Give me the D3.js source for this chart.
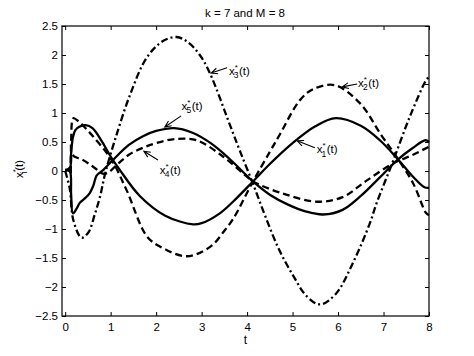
<!DOCTYPE html>
<html>
<head>
<meta charset="utf-8">
<script src="https://cdn.jsdelivr.net/npm/d3@7"></script>
<style>
  html, body { margin: 0; padding: 0; background: #fff; }
  svg { display: block; }
  text { font-family: "Liberation Sans", Arial, Helvetica, sans-serif; fill: #000; }
</style>
</head>
<body>
<svg id="chart" width="474" height="356"></svg>
<script>
// ---- data ----
const title = "k = 7 and M = 8";
const xTicks = [0, 1, 2, 3, 4, 5, 6, 7, 8];
const yTicks = [-2.5, -2, -1.5, -1, -0.5, 0, 0.5, 1, 1.5, 2, 2.5];

const t1 = [0, 0.1, 0.13, 0.17, 0.22, 0.3, 0.45, 0.6, 0.8, 1.0, 1.2, 1.64, 2.2, 2.81, 3.0, 3.4, 3.69, 4.13, 4.5, 5.0, 5.5, 5.95, 6.5, 6.92, 7.32, 7.65, 7.9, 8.0];
const x1 = [0.02, 0.04, 0.3, 0.58, 0.7, 0.76, 0.79, 0.74, 0.52, 0.25, 0.02, -0.43, -0.77, -0.92, -0.9, -0.73, -0.53, -0.18, 0.12, 0.48, 0.77, 0.91, 0.78, 0.53, 0.2, -0.1, -0.28, -0.29];

const t2 = [0, 0.1, 0.13, 0.18, 0.3, 0.62, 1.02, 1.35, 1.79, 2.08, 2.67, 3.2, 3.51, 3.69, 4.13, 4.5, 4.72, 5.16, 5.45, 5.93, 6.48, 6.95, 7.28, 7.65, 7.94, 8.0];
const x2 = [0.0, 0.05, 0.5, 0.91, 0.85, 0.59, 0.19, -0.33, -1.12, -1.3, -1.47, -1.3, -1.02, -0.83, -0.18, 0.33, 0.63, 1.22, 1.41, 1.48, 1.17, 0.62, 0.25, -0.21, -0.73, -0.76];

const t3 = [0, 0.1, 0.18, 0.36, 0.51, 0.65, 0.77, 0.88, 1.1, 1.42, 1.79, 2.15, 2.45, 2.7, 2.96, 3.18, 3.62, 3.84, 4.13, 4.4, 4.7, 5.01, 5.3, 5.6, 5.95, 6.33, 6.7, 6.85, 7.2, 7.58, 7.94, 8.0];
const x3 = [0.0, -0.3, -0.85, -1.15, -1.06, -0.75, -0.43, -0.04, 0.55, 1.3, 1.95, 2.24, 2.31, 2.22, 2.0, 1.69, 0.8, 0.35, -0.22, -0.78, -1.35, -1.8, -2.15, -2.3, -2.12, -1.58, -0.9, -0.55, 0.15, 0.94, 1.57, 1.62];

const t4 = [0, 0.1, 0.14, 0.2, 0.39, 0.62, 0.87, 1.17, 1.4, 1.71, 2.0, 2.4, 2.89, 3.47, 3.91, 4.13, 4.79, 5.55, 6.1, 6.62, 7.21, 7.65, 8.0];
const x4 = [0.0, 0.05, 0.3, 0.25, 0.19, 0.07, -0.05, 0.13, 0.28, 0.4, 0.48, 0.55, 0.53, 0.25, -0.04, -0.18, -0.39, -0.53, -0.45, -0.17, 0.13, 0.28, 0.42];

const t5 = [0, 0.1, 0.13, 0.17, 0.25, 0.32, 0.45, 0.54, 0.62, 0.69, 0.84, 1.05, 1.4, 1.71, 2.0, 2.4, 2.8, 3.2, 3.6, 4.13, 4.5, 4.9, 5.3, 5.67, 6.1, 6.5, 6.92, 7.32, 7.65, 7.92, 8.0];
const x5 = [0.02, 0.0, -0.4, -0.73, -0.65, -0.55, -0.46, -0.38, -0.25, -0.08, 0.02, 0.19, 0.45, 0.6, 0.69, 0.74, 0.66, 0.48, 0.22, -0.18, -0.41, -0.58, -0.7, -0.75, -0.67, -0.43, -0.11, 0.2, 0.4, 0.53, 0.5];

const seriesNames = ["1", "2", "3", "4", "5"];
const seriesStyle = ["solid", "dashed", "dashdot", "dashed", "solid"];

// annotation: subscript, arrow tip (t,v), arrow tail (t,v), text anchor (t,v)
const annSub = ["3", "5", "4", "2", "1"];
const annTip = [[3.21, 1.69], [2.19, 0.76], [1.73, 0.34], [6.09, 1.45], [5.10, 0.52]];
const annTail = [[3.56, 1.78], [2.55, 0.95], [2.04, 0.19], [6.42, 1.50], [5.49, 0.40]];
const annText = [[3.60, 1.66], [2.56, 1.06], [2.08, -0.05], [6.44, 1.45], [5.53, 0.31]];
const startMarker = [0.04, 0.02];

// ---- drawing ----
const svg = d3.select("#chart");
const mLeft = 62, mRight = 429, mTop = 26, mBottom = 316;
const x = d3.scaleLinear().domain([-0.07, 8]).range([mLeft, mRight]);
const y = d3.scaleLinear().domain([-2.5, 2.5]).range([mBottom, mTop]);

const fmt = d => (d < 0 ? "\u2212" : "") + String(Math.abs(d));

// axes
const ax = svg.append("g").attr("class", "axes");
ax.append("g").attr("transform", `translate(0,${mBottom})`)
  .call(d3.axisBottom(x).tickValues(xTicks).tickFormat(fmt).tickSizeInner(-4).tickSizeOuter(0).tickPadding(7));
ax.append("g").attr("transform", `translate(0,${mTop})`)
  .call(d3.axisTop(x).tickValues(xTicks).tickFormat("").tickSizeInner(-4).tickSizeOuter(0));
ax.append("g").attr("transform", `translate(${mLeft},0)`)
  .call(d3.axisLeft(y).tickValues(yTicks).tickFormat(fmt).tickSizeInner(-4).tickSizeOuter(0).tickPadding(4));
ax.append("g").attr("transform", `translate(${mRight},0)`)
  .call(d3.axisRight(y).tickValues(yTicks).tickFormat("").tickSizeInner(-4).tickSizeOuter(0));
ax.selectAll(".domain").remove();
ax.selectAll(".tick line").attr("stroke", "#000").attr("stroke-width", 1);
ax.selectAll(".tick text").attr("font-size", 11.5).attr("font-family", "Liberation Sans, Arial, sans-serif");
ax.append("rect").attr("x", mLeft).attr("y", mTop).attr("width", mRight - mLeft).attr("height", mBottom - mTop)
  .attr("fill", "none").attr("stroke", "#000").attr("stroke-width", 1.2);

// lines
const allT = [t1, t2, t3, t4, t5];
const allX = [x1, x2, x3, x4, x5];
const dashes = { solid: null, dashed: "7,4", dashdot: "7,3,2,3" };
const line = d3.line().x(d => x(d[0])).y(d => y(d[1])).curve(d3.curveCatmullRom.alpha(0.5));
const plot = svg.append("g");
seriesNames.forEach((n, i) => {
  const pts = allT[i].map((t, j) => [t, allX[i][j]]);
  plot.append("path").datum(pts)
    .attr("d", line)
    .attr("fill", "none")
    .attr("stroke", "#000")
    .attr("stroke-width", 2.3)
    .attr("stroke-linejoin", "round")
    .attr("stroke-dasharray", dashes[seriesStyle[i]]);
});

// start marker (filled triangle pointing left)
const sx = x(startMarker[0]), sy = y(startMarker[1]);
plot.append("path")
  .attr("d", `M${sx - 2},${sy} L${sx + 5},${sy - 4} L${sx + 5},${sy + 4} Z`)
  .attr("fill", "#000");

// annotations
const ann = svg.append("g");
annSub.forEach((s, i) => {
  const [tx, ty] = [x(annTip[i][0]), y(annTip[i][1])];
  const [lx, ly] = [x(annTail[i][0]), y(annTail[i][1])];
  const ang = Math.atan2(ly - ty, lx - tx);
  const L = 7, a = 0.42;
  const p1 = [tx + L * Math.cos(ang + a), ty + L * Math.sin(ang + a)];
  const p2 = [tx + L * Math.cos(ang - a), ty + L * Math.sin(ang - a)];
  ann.append("path")
    .attr("d", `M${lx},${ly} L${tx},${ty} M${p1[0]},${p1[1]} L${tx},${ty} L${p2[0]},${p2[1]}`)
    .attr("fill", "none").attr("stroke", "#000").attr("stroke-width", 1.1);
  const tpx = x(annText[i][0]), tpy = y(annText[i][1]);
  const g = ann.append("text").attr("x", tpx).attr("y", tpy).attr("font-size", 11.5);
  g.append("tspan").text("x");
  g.append("tspan").attr("dy", -5).attr("font-size", 8).text("*");
  g.append("tspan").attr("dx", -4).attr("dy", 8.5).attr("font-size", 8.5).text(s);
  g.append("tspan").attr("dy", -3.5).attr("dx", 0.5).text("(t)");
});

// title and axis labels
svg.append("text").attr("x", 245).attr("y", 17).attr("text-anchor", "middle")
  .attr("font-size", 11.5).text(title);
svg.append("text").attr("x", 245.5).attr("y", 344).attr("text-anchor", "middle")
  .attr("font-size", 12).text("t");
const yl = svg.append("text").attr("transform", "translate(23,169) rotate(-90)")
  .attr("text-anchor", "middle").attr("font-size", 11.5);
yl.append("tspan").text("x");
yl.append("tspan").attr("dy", -5).attr("font-size", 8).text("*");
yl.append("tspan").attr("dx", -4).attr("dy", 8.5).attr("font-size", 8.5).text("i");
yl.append("tspan").attr("dy", -3.5).attr("dx", 0.5).text("(t)");
</script>
</body>
</html>
